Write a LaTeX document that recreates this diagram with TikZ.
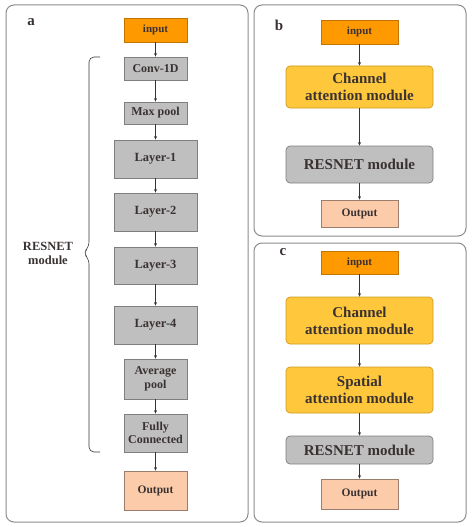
\documentclass[tikz,border=0pt]{standalone}
\usepackage{fontspec}
\setmainfont{Liberation Serif}
\usetikzlibrary{arrows.meta}

\definecolor{inorange}{HTML}{FF9900}
\definecolor{inedge}{HTML}{C27400}
\definecolor{attyellow}{HTML}{FFC83C}
\definecolor{attedge}{HTML}{CC9A22}
\definecolor{resgray}{HTML}{BFBFBF}
\definecolor{resedge}{HTML}{7F7F7F}
\definecolor{outpeach}{HTML}{FBCBAA}
\definecolor{outedge}{HTML}{9C7C6C}
\definecolor{txt}{HTML}{3A3232}
\definecolor{frame}{HTML}{8C8C8C}

\begin{document}
\begin{tikzpicture}
        [x=1pt, y=-1pt,
         blk/.style={rectangle, inner sep=0pt, align=center, text=txt, line width=0.7pt},
         small/.style={font=\fontsize{11}{13}\selectfont\bfseries},
         mid/.style={font=\fontsize{12}{13.5}\selectfont\bfseries},
         big/.style={font=\fontsize{15}{17}\selectfont\bfseries},
         layer/.style={font=\fontsize{12.5}{14}\selectfont\bfseries},
         inp/.style={blk, small, fill=inorange, draw=inedge},
         att/.style={blk, big, fill=attyellow, draw=attedge, rounded corners=4pt},
         res/.style={blk, fill=resgray, draw=resedge},
         outp/.style={blk, font=\fontsize{11.5}{13}\selectfont\bfseries, fill=outpeach, draw=outedge},
         flow/.style={-{Stealth[length=3.5pt,width=3pt]}, line width=0.6pt, draw=txt},
         panel/.style={draw=frame, line width=1pt, rounded corners=8pt},
         tag/.style={font=\fontsize{15}{17}\selectfont\bfseries, text=txt}]
        \useasboundingbox (0,0) rectangle (474,527);
        \draw[panel] (6,5) rectangle (248,522);
        \draw[panel] (254,5) rectangle (466,236);
        \draw[panel] (254,243) rectangle (466,522);
        \node[tag] (taga) at (31,22) {a};
        \node[tag] (tagb) at (279,25) {b};
        \node[tag] (tagc) at (283,252) {c};
        % panel a
        \path node (ain) at (155.5,30) [inp, minimum width=63pt, minimum height=24pt] {input}
              node (conv) at (155.5,68.5) [res, mid, minimum width=63pt, minimum height=23pt] {Conv-1D}
              node (mpool) at (155.5,113) [res, mid, minimum width=63pt, minimum height=22pt] {Max pool}
              node (lay1) at (155.5,159) [res, layer, minimum width=83pt, minimum height=38pt] {Layer-1}
              node (lay2) at (155.5,212) [res, layer, minimum width=83pt, minimum height=38pt] {Layer-2}
              node (lay3) at (155.5,265.5) [res, layer, minimum width=83pt, minimum height=37pt] {Layer-3}
              node (lay4) at (155.5,325) [res, layer, minimum width=83pt, minimum height=38pt] {Layer-4}
              node (apool) at (155.5,379) [res, mid, minimum width=63pt, minimum height=40pt] {Average\\pool}
              node (fc) at (155.5,433) [res, mid, minimum width=63pt, minimum height=38pt] {Fully\\Connected}
              node (aout) at (155.5,490.5) [outp, minimum width=63pt, minimum height=39pt] {Output};
        \foreach \a/\b in {ain/conv, conv/mpool, mpool/lay1, lay1/lay2, lay2/lay3, lay3/lay4, lay4/apool, apool/fc, fc/aout}
          \draw[flow] (\a) -- (\b);
        \draw[draw=txt, line width=0.6pt, rounded corners=5pt]
              (100,57) -| (89,247) -- (83,253) -- (89,259) |- (100,452);
        \node[layer, text=txt, align=center] (resnet) at (48,253) {RESNET\\module};
        % panel b
        \path node (bin) at (359.5,32) [inp, minimum width=77pt, minimum height=24pt] {input}
              node (bchan) at (359.5,87) [att, minimum width=147pt, minimum height=42pt] {Channel\\attention module}
              node (bres) at (359.5,164.5) [res, big, rounded corners=4pt, minimum width=147pt, minimum height=37pt] {RESNET module}
              node (bout) at (359.5,213.5) [outp, minimum width=77pt, minimum height=27pt] {Output};
        \foreach \a/\b in {bin/bchan, bchan/bres, bres/bout}
          \draw[flow] (\a) -- (\b);
        % panel c
        \path node (cin) at (359.5,262.5) [inp, minimum width=77pt, minimum height=23pt] {input}
              node (cchan) at (359.5,320.5) [att, minimum width=147pt, minimum height=47pt] {Channel\\attention module}
              node (cspat) at (359.5,390) [att, minimum width=147pt, minimum height=46pt] {Spatial\\attention module}
              node (cres) at (359.5,450) [res, big, rounded corners=4pt, minimum width=147pt, minimum height=28pt] {RESNET module}
              node (cout) at (359.5,494) [outp, minimum width=77pt, minimum height=30pt] {Output};
        \foreach \a/\b in {cin/cchan, cchan/cspat, cspat/cres, cres/cout}
          \draw[flow] (\a) -- (\b);
\end{tikzpicture}
\end{document}
